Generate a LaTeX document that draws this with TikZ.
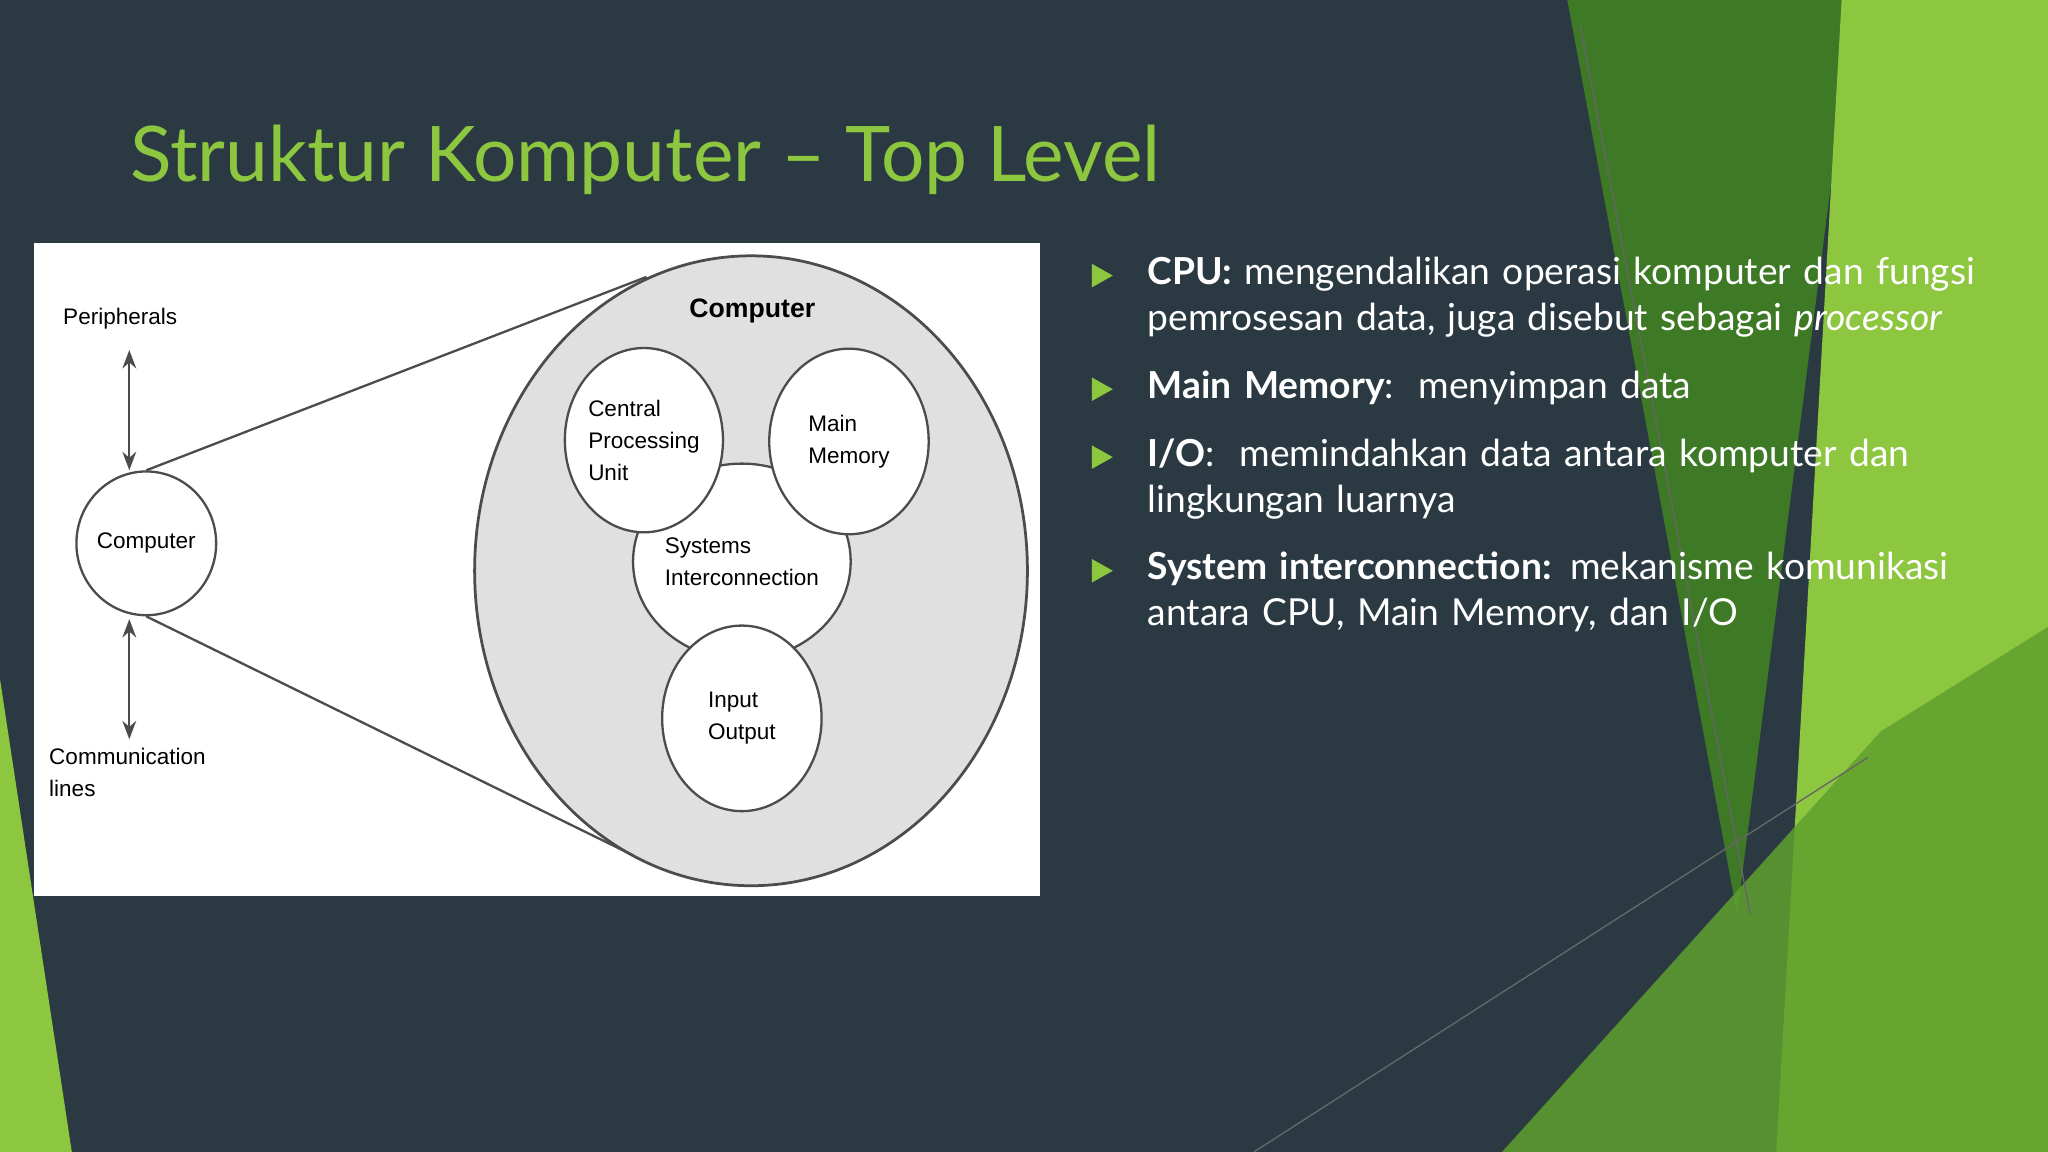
\documentclass[tikz,border=0pt]{standalone}
\usepackage{fontspec}
\setmainfont{Lato}
\newfontfamily\diag{Liberation Sans}
\usetikzlibrary{shapes.geometric,arrows.meta}
\definecolor{bg}{HTML}{2B3A42}
\definecolor{lg}{HTML}{8DC63F}
\definecolor{dg}{HTML}{3E7A26}
\definecolor{mg}{HTML}{5FA02E}
\definecolor{cgray}{HTML}{E0E0E0}
\begin{document}
\begin{tikzpicture}[x=0.01cm,y=-0.01cm,
  circ/.style={ellipse,draw=black!70,line width=0.5pt,fill=white,inner sep=0pt,font=\diag\fontsize{4.9pt}{7pt}\selectfont,align=left},
  lbl/.style={font=\diag\fontsize{4.9pt}{7pt}\selectfont,align=left,inner sep=0pt},
  bul/.style={fill=lg,draw=none},
  txt/.style={text=white,font=\fontsize{8.1pt}{10pt}\selectfont,anchor=north west,align=left,inner sep=0pt,text width=72mm}]
\fill[bg] (0,0) rectangle (1568,882);
\useasboundingbox (0,0) rectangle (1568,882);
% green shapes
\fill[dg] (1200,0) -- (1420,0) -- (1330,700) -- cycle;
\fill[lg] (1410,0) -- (1568,0) -- (1568,882) -- (1360,882) -- cycle;
\fill[mg,opacity=0.85] (1150,882) -- (1440,560) -- (1568,480) -- (1568,882) -- cycle;
\fill[lg,opacity=0.6] (1470,0) -- (1568,0) -- (1568,300) -- cycle;
\fill[lg] (0,520) -- (55,882) -- (0,882) -- cycle;
\draw[black!60,line width=0.3pt] (1210,20) -- (1340,700);
\draw[black!60,line width=0.3pt] (960,882) -- (1430,580);
% title
\node[anchor=west,text=lg,font=\fontsize{16.7pt}{20pt}\selectfont,inner sep=0pt] (title) at (99,122) {Struktur Komputer -- Top Level};
% diagram
\fill[white] (26,186) rectangle (796,686);
\node[ellipse,draw=black!70,fill=cgray,line width=0.6pt,minimum width=42.3mm,minimum height=48.2mm,inner sep=0pt] (big) at (575,437) {};
\node[lbl,font=\diag\bfseries\fontsize{5.8pt}{8pt}\selectfont] (ctitle) at (576,238) {Computer};
\node[circ,minimum width=13.6mm,minimum height=15mm] (sys) at (568,430) {Systems\\Interconnection};
\node[circ,minimum width=12.1mm,minimum height=14.1mm] (cpu) at (493,337) {Central\\Processing\\Unit};
\node[circ,minimum width=12.2mm,minimum height=14.2mm] (mem) at (650,338) {Main\\Memory};
\node[circ,minimum width=12.2mm,minimum height=14.2mm] (io) at (568,550) {Input\\Output};
\node[circ,minimum width=9.4mm,minimum height=11mm] (comp) at (112,416) {Computer};
\coordinate (t1) at (495,212);
\coordinate (t2) at (485,655);
\draw[black!70,line width=0.5pt] (comp.north) -- (t1);
\draw[black!70,line width=0.5pt] (comp.south) -- (t2);
\node[lbl] (per) at (92,244) {Peripherals};
\node[lbl,anchor=north west] (com) at (37,572) {Communication\\lines};
\coordinate (a1) at (99,268); \coordinate (a2) at (99,360);
\coordinate (b1) at (99,474); \coordinate (b2) at (99,566);
\draw[black!70,line width=0.5pt,{Stealth[length=4pt]}-{Stealth[length=4pt]}] (a1) -- (a2);
\draw[black!70,line width=0.5pt,{Stealth[length=4pt]}-{Stealth[length=4pt]}] (b1) -- (b2);
% bullets
\foreach \y in {211,298,350,437}
  \fill[bul] (836,\y-9) -- (852,\y) -- (836,\y+9) -- cycle;
\node[txt] (x1) at (878,196) {\textbf{CPU:} mengendalikan operasi komputer dan fungsi\\pemrosesan data, juga disebut sebagai \textit{processor}};
\node[txt] (x2) at (878,283) {\textbf{Main Memory}:\ \ menyimpan data};
\node[txt] (x3) at (878,335) {\textbf{I/O}:\ \ memindahkan data antara komputer dan\\lingkungan luarnya};
\node[txt] (x4) at (878,422) {\textbf{System interconnection:} mekanisme komunikasi\\antara CPU, Main Memory, dan I/O};
\end{tikzpicture}
\end{document}
